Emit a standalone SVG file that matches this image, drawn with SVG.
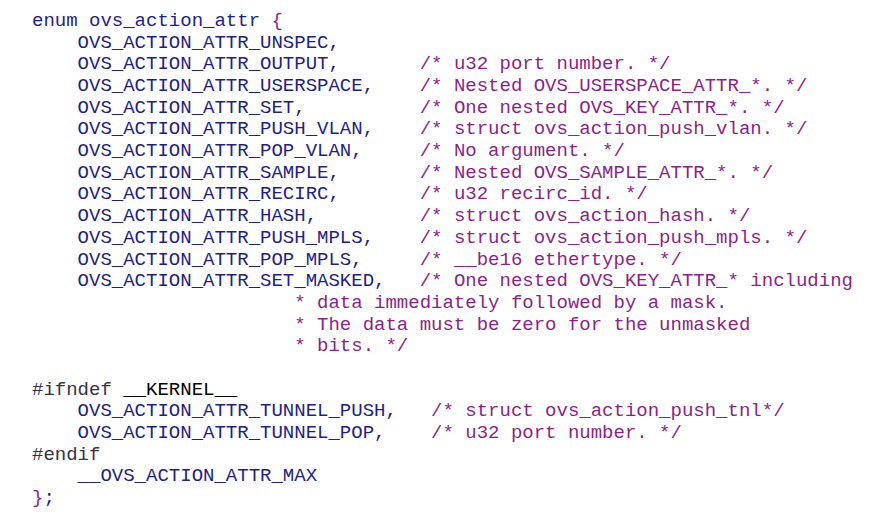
<svg xmlns="http://www.w3.org/2000/svg" width="879" height="521" viewBox="0 0 879 521">
<style>
text{font-family:"Liberation Mono","DejaVu Sans Mono",monospace;font-size:19px;white-space:pre}
.k{fill:#1e1e8a}.c{fill:#8b1f8b}.p{fill:#333344}.b{fill:#8b1f8b}
</style>
<rect width="879" height="521" fill="#fff"/>
<g id="code" xml:space="preserve">
<text x="32" y="26"><tspan class="k">enum ovs_action_attr </tspan><tspan class="b">{</tspan></text>
<text x="32" y="47.7" class="k">    OVS_ACTION_ATTR_UNSPEC,</text>
<text x="32" y="69.4"><tspan class="k">    OVS_ACTION_ATTR_OUTPUT,       </tspan><tspan class="c">/* u32 port number. */</tspan></text>
<text x="32" y="91.0"><tspan class="k">    OVS_ACTION_ATTR_USERSPACE,    </tspan><tspan class="c">/* Nested OVS_USERSPACE_ATTR_*. */</tspan></text>
<text x="32" y="112.7"><tspan class="k">    OVS_ACTION_ATTR_SET,          </tspan><tspan class="c">/* One nested OVS_KEY_ATTR_*. */</tspan></text>
<text x="32" y="134.4"><tspan class="k">    OVS_ACTION_ATTR_PUSH_VLAN,    </tspan><tspan class="c">/* struct ovs_action_push_vlan. */</tspan></text>
<text x="32" y="156.1"><tspan class="k">    OVS_ACTION_ATTR_POP_VLAN,     </tspan><tspan class="c">/* No argument. */</tspan></text>
<text x="32" y="177.8"><tspan class="k">    OVS_ACTION_ATTR_SAMPLE,       </tspan><tspan class="c">/* Nested OVS_SAMPLE_ATTR_*. */</tspan></text>
<text x="32" y="199.4"><tspan class="k">    OVS_ACTION_ATTR_RECIRC,       </tspan><tspan class="c">/* u32 recirc_id. */</tspan></text>
<text x="32" y="221.1"><tspan class="k">    OVS_ACTION_ATTR_HASH,         </tspan><tspan class="c">/* struct ovs_action_hash. */</tspan></text>
<text x="32" y="242.8"><tspan class="k">    OVS_ACTION_ATTR_PUSH_MPLS,    </tspan><tspan class="c">/* struct ovs_action_push_mpls. */</tspan></text>
<text x="32" y="264.5"><tspan class="k">    OVS_ACTION_ATTR_POP_MPLS,     </tspan><tspan class="c">/* __be16 ethertype. */</tspan></text>
<text x="32" y="286.2"><tspan class="k">    OVS_ACTION_ATTR_SET_MASKED,   </tspan><tspan class="c">/* One nested OVS_KEY_ATTR_* including</tspan></text>
<text x="32" y="307.8" class="c">                       * data immediately followed by a mask.</text>
<text x="32" y="329.5" class="c">                       * The data must be zero for the unmasked</text>
<text x="32" y="351.2" class="c">                       * bits. */</text>
<text x="32" y="394.6"><tspan class="p">#ifndef </tspan><tspan fill="#000">__KERNEL__</tspan></text>
<text x="32" y="416.2"><tspan class="k">    OVS_ACTION_ATTR_TUNNEL_PUSH,   </tspan><tspan class="c">/* struct ovs_action_push_tnl*/</tspan></text>
<text x="32" y="437.9"><tspan class="k">    OVS_ACTION_ATTR_TUNNEL_POP,    </tspan><tspan class="c">/* u32 port number. */</tspan></text>
<text x="32" y="459.6" class="p">#endif</text>
<text x="32" y="481.3" class="k">    __OVS_ACTION_ATTR_MAX</text>
<text x="32" y="503.0"><tspan class="b">}</tspan><tspan class="k">;</tspan></text>
</g>
</svg>
